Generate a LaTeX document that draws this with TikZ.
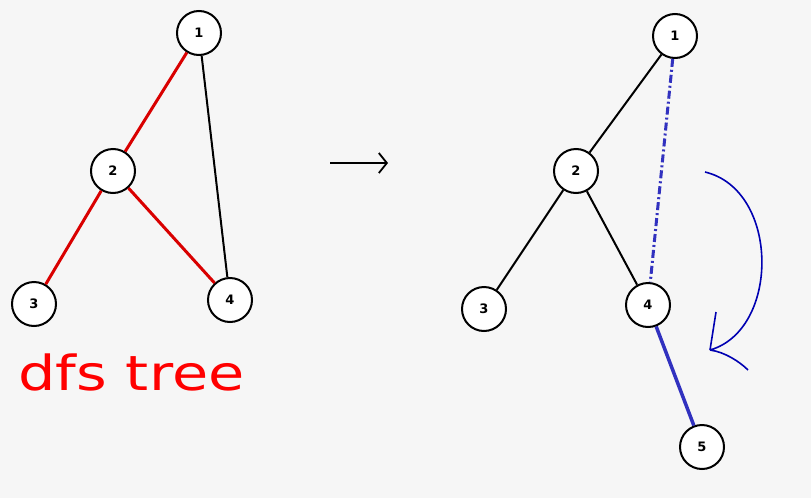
\documentclass[tikz,border=0pt]{standalone}
\usepackage{fontspec}
\setmainfont{DejaVu Sans}
\usetikzlibrary{arrows.meta}
\begin{document}
\begin{tikzpicture}[x=1pt,y=-1pt,
  vert/.style={circle,draw,line width=2pt,fill=white,minimum size=44pt,inner sep=0pt,font=\bfseries\fontsize{13}{14}\selectfont},
  redge/.style={draw=red!85!black,line width=3pt},
  bedge/.style={line width=2pt}]
\fill[gray!7] (0,0) rectangle (811,498);
\useasboundingbox (0,0) rectangle (811,498);
\node[vert] (a1) at (199,33) {1};
\node[vert] (a2) at (113,171) {2};
\node[vert] (a3) at (34,304) {3};
\node[vert] (a4) at (230,300) {4};
\draw[redge] (a1) -- (a2);
\draw[redge] (a2) -- (a3);
\draw[redge] (a2) -- (a4);
\draw[bedge] (a1) -- (a4);
\node[vert] (b1) at (675,36) {1};
\node[vert] (b2) at (576,171) {2};
\node[vert] (b3) at (484,309) {3};
\node[vert] (b4) at (648,305) {4};
\node[vert] (b5) at (702,447) {5};
\draw[bedge] (b1) -- (b2);
\draw[bedge] (b2) -- (b3);
\draw[bedge] (b2) -- (b4);
\draw[blue!70!black,opacity=0.8,line width=3pt,dash pattern=on 8pt off 3pt on 2pt off 3pt] (b1) -- (b4);
\draw[blue!70!black,opacity=0.8,line width=3.5pt] (b4) -- (b5);
\coordinate (ar1) at (330,163);
\coordinate (ar2) at (388,163);
\draw[line width=1.8pt,-{Straight Barb[length=8pt,width=20pt]}] (ar1) -- (ar2);
\node[text=red,font=\fontsize{46}{48}\selectfont,anchor=west,xscale=1.28,yscale=1.05] (t) at (14,372) {dfs tree};
\draw[blue!70!black,line width=1.6pt] (705,172) .. controls (780,190) and (780,330) .. (710,350)
  (710,350) -- (716,312)
  (710,350) .. controls (725,352) and (740,362) .. (748,370);
\end{tikzpicture}
\end{document}
